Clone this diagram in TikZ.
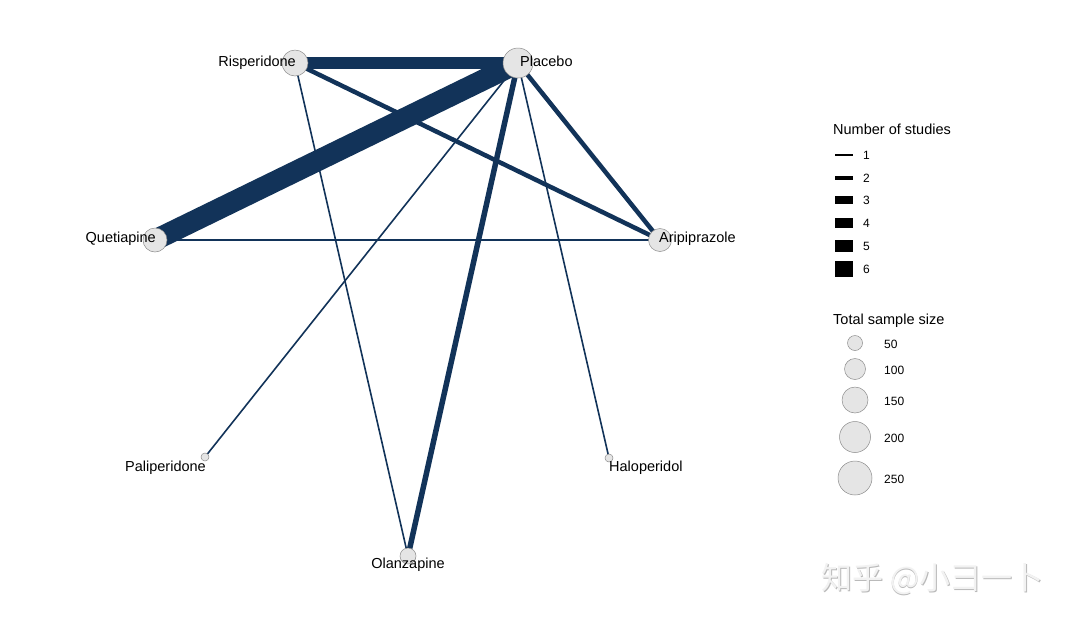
\documentclass[tikz,border=0pt]{standalone}
\usepackage{fontspec}
\setmainfont{Liberation Sans}
\newfontfamily\cjk{Noto Sans CJK SC}
\usetikzlibrary{backgrounds}
\definecolor{edgec}{RGB}{18,51,89}
\definecolor{nodefill}{RGB}{229,229,229}
\definecolor{nodeline}{RGB}{140,140,140}
\tikzset{
  trt/.style={circle, fill=nodefill, draw=nodeline, line width=0.5pt, inner sep=0pt},
  lbl/.style={inner sep=0pt, font=\fontsize{14.5}{17}\selectfont, text=black},
  edge/.style={draw=edgec, line cap=butt},
  legtxt/.style={inner sep=0pt, font=\fontsize{14.5}{17}\selectfont, anchor=base west},
  legnum/.style={inner sep=0pt, font=\fontsize{12}{14}\selectfont, anchor=base west},
  legkey/.style={draw=black, line cap=butt},
  legcirc/.style={circle, fill=nodefill, draw=nodeline, line width=0.5pt, inner sep=0pt}
}
\begin{document}
\begin{tikzpicture}[x=1pt,y=-1pt]
\useasboundingbox (0,0) rectangle (1079,625);

% treatment nodes
\node[trt, minimum size=30pt] (plac) at (518,63) {};
\node[trt, minimum size=26pt] (risp) at (295,63) {};
\node[trt, minimum size=24pt] (quet) at (155,240) {};
\node[trt, minimum size=23pt] (arip) at (660,240) {};
\node[trt, minimum size=8pt]  (pali) at (205,457) {};
\node[trt, minimum size=8pt]  (halo) at (609,458) {};
\node[trt, minimum size=16pt] (olan) at (408,556) {};

% labels
\node[lbl, anchor=base west] (placL) at (520,66) {Placebo};
\node[lbl, anchor=base east] (rispL) at (296,66) {Risperidone};
\node[lbl, anchor=base east] (quetL) at (156,242) {Quetiapine};
\node[lbl, anchor=base west] (aripL) at (659,242) {Aripiprazole};
\node[lbl, anchor=base east] (paliL) at (206,471) {Paliperidone};
\node[lbl, anchor=base west] (haloL) at (609,471) {Haloperidol};
\node[lbl, anchor=base] (olanL) at (408,568) {Olanzapine};

% edges
\begin{pgfonlayer}{background}
\fill[white] (0,0) rectangle (1079,625);
\draw[edge, line width=21pt] (quet.center) -- (plac.center);
\draw[edge, line width=12pt] (risp.center) -- (plac.center);
\draw[edge, line width=4.5pt] (risp.center) -- (arip.center);
\draw[edge, line width=4.5pt] (plac.center) -- (arip.center);
\draw[edge, line width=5.5pt] (plac.center) -- (olan.center);
\draw[edge, line width=1.6pt] (plac.center) -- (pali.center);
\draw[edge, line width=1.6pt] (plac.center) -- (halo.center);
\draw[edge, line width=1.6pt] (risp.center) -- (olan.center);
\draw[edge, line width=1.6pt] (quet.center) -- (arip.center);
\end{pgfonlayer}

% legend: number of studies
\node[legtxt] (legA) at (833,134) {Number of studies};
\draw[legkey, line width=2pt]  (835,154.5) -- (853,154.5);
\draw[legkey, line width=4.3pt] (835,178) -- (853,178);
\draw[legkey, line width=8pt]  (835,200) -- (853,200);
\draw[legkey, line width=10pt] (835,223) -- (853,223);
\draw[legkey, line width=12.5pt] (835,246) -- (853,246);
\draw[legkey, line width=16pt] (835,269) -- (853,269);
\node[legnum] (n1) at (863,159.5) {1};
\node[legnum] (n2) at (863,182.5) {2};
\node[legnum] (n3) at (863,204.5) {3};
\node[legnum] (n4) at (863,227.5) {4};
\node[legnum] (n5) at (863,250.5) {5};
\node[legnum] (n6) at (863,273.5) {6};

% legend: total sample size
\node[legtxt] (legB) at (833,324) {Total sample size};
\node[legcirc, minimum size=15pt] (c50)  at (855,343) {};
\node[legcirc, minimum size=21pt] (c100) at (855,369) {};
\node[legcirc, minimum size=26pt] (c150) at (855,400) {};
\node[legcirc, minimum size=31pt] (c200) at (855,437) {};
\node[legcirc, minimum size=34pt] (c250) at (855,478) {};
\node[legnum] (s50)  at (884,348) {50};
\node[legnum] (s100) at (884,374) {100};
\node[legnum] (s150) at (884,405) {150};
\node[legnum] (s200) at (884,442) {200};
\node[legnum] (s250) at (884,483) {250};

% watermark
\node[inner sep=0pt, anchor=west, text=gray!55, font=\cjk\fontsize{31}{34}\selectfont] (wmS) at (821.8,579.8) {知乎 @小彐一卜};
\node[inner sep=0pt, anchor=west, text=gray!10, font=\cjk\fontsize{31}{34}\selectfont] (wm) at (821,579) {知乎 @小彐一卜};
\end{tikzpicture}
\end{document}
